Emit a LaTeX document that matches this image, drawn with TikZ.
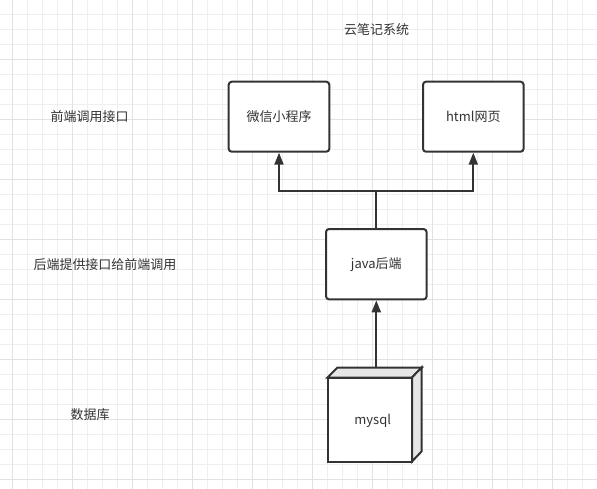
\documentclass[tikz,border=0pt]{standalone}
\usepackage{fontspec}
\setmainfont{Noto Sans CJK SC}
\usetikzlibrary{arrows.meta}
\definecolor{ink}{HTML}{333333}
\definecolor{gridminor}{HTML}{EFEFEF}
\definecolor{gridmajor}{HTML}{E2E2E2}
\definecolor{cubeside}{HTML}{E6E6E6}
\tikzset{
  minorline/.style={draw=gridminor, line width=1pt},
  majorline/.style={draw=gridmajor, line width=1pt},
  txt/.style={text=ink, inner sep=0pt, font=\fontsize{13pt}{15pt}\selectfont},
  boxnode/.style={txt, draw=ink, line width=2pt, rounded corners=3pt, fill=white,
    minimum width=100.6pt, minimum height=70pt},
  conn/.style={draw=ink, line width=2pt, -{Triangle[length=12pt,width=9pt]}},
  plainconn/.style={draw=ink, line width=2pt},
  cubeline/.style={draw=ink, line width=2pt, line join=miter},
}
\begin{document}
\begin{tikzpicture}[x=1pt,y=-1pt]
\useasboundingbox (0,0) rectangle (597,489);
\fill[white] (0,0) rectangle (597,489);
% grid
\foreach \i in {0,...,39} { \draw[minorline] ({12.3+15*\i},0) -- ++(0,489); }
\foreach \i in {0,...,32} { \draw[minorline] (0,{-0.7+15*\i}) -- ++(597,0); }
\foreach \i in {0,...,9} { \draw[majorline] ({12.3+60*\i},0) -- ++(0,489); }
\foreach \i in {1,...,8} { \draw[majorline] (0,{-0.7+60*\i}) -- ++(597,0); }

% title and side labels
\node[txt] (title) at (376.7,30) {云笔记系统};
\node[txt] (lab1) at (89.7,116.7) {前端调用接口};
\node[txt] (lab2) at (105,264.5) {后端提供接口给前端调用};
\node[txt] (lab3) at (90,415) {数据库};

% boxes
\node[boxnode] (wx) at (279,116.7) {微信小程序};
\node[boxnode] (html) at (473.3,116.7) {html网页};
\node[boxnode, minimum height=70.3pt] (java) at (376.3,264.2) {java后端};

% cube (database)
\coordinate (fa) at (327.5,377.5);
\coordinate (fb) at (412,377.5);
\coordinate (fc) at (412,461.5);
\coordinate (fd) at (327.5,461.5);
\fill[white] (fa) rectangle (fc);
\filldraw[cubeside, cubeline] (fa) -- ++(10,-10) -- ++(84.5,0) -- (fb) -- cycle;
\filldraw[cubeside, cubeline] (fb) -- ++(9.5,-10) -- ++(0,84) -- (fc) -- cycle;
\draw[cubeline] (fa) rectangle (fc);
\node[txt] (db) at (372.7,421) {mysql};
\coordinate (dbtop) at (376.3,367.5);

% connectors
\coordinate (jn) at (376.3,191);
\draw[plainconn] (java.north) -- (jn);
\draw[conn] (jn) -| (wx.south);
\draw[conn] (jn) -| (html.south);
\draw[conn] (dbtop) -- (java.south);
\end{tikzpicture}
\end{document}
